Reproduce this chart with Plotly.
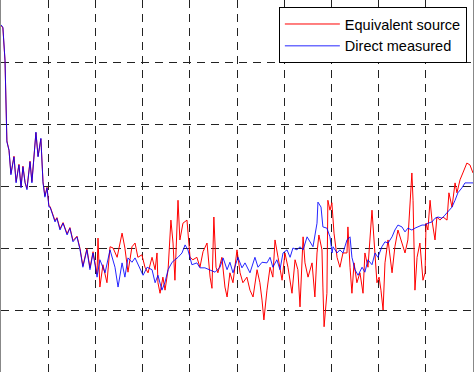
import plotly.graph_objects as go

# Frequency (Hz) and level (dB)
freq_direct = [0, 8, 17, 21, 25, 34, 42, 55, 64, 76, 85, 93, 102, 110, 123, 131, 140, 148, 157, 169,
               178, 186, 195, 203, 208, 216, 229, 237, 250, 263, 280, 292, 305, 322, 335, 347, 364, 377, 390, 407,
               419, 441, 462, 483, 496, 513, 525, 538, 555, 568, 589, 602, 619, 640, 653, 665, 682, 695, 708, 725,
               737, 750, 767, 780, 792, 809, 830, 843, 864, 886, 907, 928, 941, 958, 970, 983, 1004, 1021, 1034, 1055,
               1076, 1089, 1106, 1127, 1140, 1152, 1169, 1182, 1195, 1212, 1225, 1237, 1254, 1267, 1280, 1297, 1309, 1322, 1339, 1343,
               1356, 1364, 1381, 1394, 1403, 1407, 1424, 1436, 1449, 1466, 1479, 1487, 1500, 1513, 1530, 1542, 1555, 1572, 1585, 1597,
               1614, 1627, 1640, 1657, 1669, 1682, 1699, 1712, 1724, 1741, 1754, 1767, 1784, 1797, 1809, 1826, 1839, 1852, 1869, 1881,
               1894, 1911, 1924, 1936, 1953, 1966, 1979, 2000]
level_direct = [76.0, 75.6, 70.3, 60.6, 57.1, 55.8, 51.8, 54.7, 50.5, 53.4, 49.7, 53.1, 50.5, 49.4, 53.9, 50.5, 54.2, 58.7, 54.7, 57.7,
                50.5, 48.2, 49.7, 46.6, 46.6, 45.6, 44.2, 44.8, 42.9, 44.0, 42.1, 43.2, 41.0, 41.8, 39.7, 36.9, 39.7, 36.5, 39.2, 35.3,
                38.1, 36.0, 39.7, 36.9, 33.7, 37.6, 35.3, 38.4, 37.7, 38.4, 36.5, 35.6, 36.9, 36.5, 34.4, 35.6, 33.2, 34.5, 36.5, 37.7,
                38.1, 38.5, 39.2, 40.5, 39.7, 37.3, 37.6, 36.8, 36.8, 36.5, 36.1, 36.9, 38.4, 36.5, 37.7, 36.0, 38.5, 36.8, 37.6, 36.0,
                38.5, 36.9, 37.7, 37.6, 38.5, 36.9, 38.1, 36.5, 39.2, 39.7, 38.5, 40.0, 39.7, 40.2, 39.7, 41.8, 41.0, 40.2, 44.0, 47.4,
                46.6, 43.4, 43.2, 41.8, 39.2, 40.2, 39.2, 39.7, 39.2, 41.3, 41.8, 38.5, 36.5, 35.6, 36.9, 36.1, 38.1, 37.3, 39.2, 38.5,
                40.2, 41.0, 40.8, 41.8, 42.9, 43.7, 43.4, 42.6, 43.2, 42.9, 43.2, 43.4, 43.7, 43.7, 44.0, 44.2, 44.8, 45.0, 44.8, 45.3,
                45.8, 46.6, 47.7, 48.9, 49.7, 50.5, 50.5, 50.5]

freq_equiv = [0, 8, 17, 21, 25, 34, 42, 55, 64, 76, 85, 93, 102, 110, 123, 131, 140, 148, 157, 169,
              178, 186, 195, 203, 208, 216, 229, 237, 250, 263, 280, 292, 305, 322, 335, 347, 364, 377, 390, 407,
              411, 419, 432, 449, 462, 475, 492, 513, 525, 538, 555, 568, 580, 597, 610, 623, 640, 653, 661, 665,
              674, 686, 695, 708, 720, 729, 737, 750, 758, 771, 788, 801, 813, 830, 843, 856, 873, 886, 894, 902,
              911, 919, 936, 949, 958, 970, 983, 1000, 1013, 1025, 1042, 1055, 1068, 1085, 1097, 1106, 1114, 1127, 1140, 1152,
              1161, 1174, 1191, 1203, 1216, 1233, 1246, 1258, 1267, 1280, 1288, 1301, 1318, 1330, 1339, 1347, 1360, 1364, 1369, 1381,
              1385, 1394, 1402, 1411, 1424, 1436, 1449, 1466, 1470, 1479, 1487, 1496, 1508, 1521, 1534, 1542, 1555, 1572, 1585, 1593,
              1602, 1610, 1619, 1627, 1640, 1657, 1669, 1682, 1699, 1712, 1724, 1741, 1746, 1754, 1763, 1775, 1788, 1797, 1801, 1809,
              1818, 1826, 1839, 1847, 1860, 1873, 1890, 1898, 1911, 1924, 1932, 1945, 1957, 1974, 1987, 2000]
level_equiv = [75.9, 75.5, 70.2, 60.4, 57.3, 55.7, 52.0, 54.8, 50.7, 53.5, 49.9, 53.2, 50.6, 49.6, 54.0, 50.7, 54.3, 58.6, 54.8, 57.6,
               50.7, 48.4, 49.8, 46.8, 46.7, 45.8, 44.4, 44.9, 43.1, 44.1, 42.3, 43.3, 41.2, 41.9, 39.9, 37.1, 39.9, 36.8, 39.4, 35.8,
               41.6, 33.7, 37.3, 34.4, 40.2, 40.0, 38.5, 42.4, 40.0, 36.1, 40.2, 40.8, 38.5, 38.9, 36.9, 36.0, 38.5, 36.5, 39.2, 34.4,
               32.7, 35.3, 33.2, 36.5, 44.5, 40.8, 34.8, 47.7, 41.3, 44.0, 44.5, 38.5, 38.1, 38.5, 36.9, 39.4, 40.8, 35.3, 33.5, 45.0,
               36.9, 36.0, 38.5, 33.7, 32.1, 36.0, 34.4, 39.7, 36.0, 34.4, 35.3, 33.2, 32.1, 36.5, 34.4, 31.6, 28.4, 33.2, 36.9, 35.3,
               41.3, 38.5, 34.8, 39.2, 36.9, 32.7, 38.1, 36.5, 30.5, 41.8, 37.6, 35.3, 37.6, 32.1, 39.2, 42.1, 39.7, 33.7, 27.3, 32.7,
               47.7, 46.1, 47.3, 42.4, 38.5, 36.9, 39.2, 39.2, 43.4, 36.9, 32.7, 37.6, 34.4, 36.0, 32.7, 39.2, 36.9, 46.1, 38.5, 34.4,
               35.3, 33.2, 30.0, 37.6, 41.3, 36.0, 40.2, 42.9, 40.8, 39.2, 41.3, 52.1, 47.7, 33.2, 38.5, 40.8, 34.8, 36.0, 44.0, 42.9,
               47.7, 44.5, 41.3, 45.0, 44.5, 45.0, 44.5, 48.9, 46.6, 50.5, 48.9, 51.0, 52.1, 53.7, 53.4, 52.1]

series_names = ["Equivalent source", "Direct measured"]

fig = go.Figure()
fig.add_trace(go.Scatter(x=freq_equiv, y=level_equiv, mode="lines", name=series_names[0],
                         line=dict(color="#ff0000", width=1)))
fig.add_trace(go.Scatter(x=freq_direct, y=level_direct, mode="lines", name=series_names[1],
                         line=dict(color="#0000ff", width=1), opacity=0.85))

fig.update_layout(
    width=474, height=373,
    margin=dict(l=1, r=1, t=0, b=1),
    paper_bgcolor="white", plot_bgcolor="white",
    font=dict(family="Liberation Sans, Arial, sans-serif", size=14, color="black"),
    showlegend=True,
    legend=dict(x=0.987, y=0.981, xanchor="right", yanchor="top",
                bgcolor="white", bordercolor="black", borderwidth=1,
                font=dict(size=14.5), tracegroupgap=0, itemwidth=55),
)
fig.update_xaxes(range=[0, 2000], dtick=200, tick0=0, showticklabels=False, ticks="",
                 showgrid=True, gridcolor="#222222", gridwidth=1, griddash="8px,6px",
                 zeroline=False, showline=False)
fig.update_yaxes(range=[20, 80], dtick=10, tick0=20, showticklabels=False, ticks="",
                 showgrid=True, gridcolor="#222222", gridwidth=1, griddash="8px,6px",
                 zeroline=False, showline=True, linecolor="#888888", linewidth=2, mirror=True)

fig.write_html("out.html", config={"displayModeBar": False},
               post_script="document.body.style.margin='0';document.body.style.padding='0';")
